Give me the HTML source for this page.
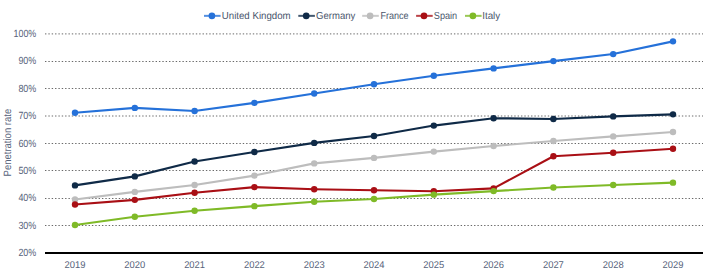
<!DOCTYPE html>
<html><head><meta charset="utf-8"><style>
html,body{margin:0;padding:0;background:#fff;width:720px;height:275px;overflow:hidden}
svg{display:block}
text{text-rendering:geometricPrecision;font-family:"Liberation Sans",sans-serif;fill:#56627a}
.ty{font-size:10.4px}
.tx{font-size:9.8px}
.tt{font-size:10.6px}
.tl{font-size:10.2px;fill:#4a566c}
</style></head><body>
<svg width="720" height="275" viewBox="0 0 720 275">
<line x1="45" x2="703" y1="33.90" y2="33.90" stroke="#6a6a6a" stroke-width="1" stroke-dasharray="1.4 1.952"/>
<line x1="45" x2="703" y1="61.50" y2="61.50" stroke="#6a6a6a" stroke-width="1" stroke-dasharray="1.4 1.952"/>
<line x1="45" x2="703" y1="88.50" y2="88.50" stroke="#6a6a6a" stroke-width="1" stroke-dasharray="1.4 1.952"/>
<line x1="45" x2="703" y1="116.00" y2="116.00" stroke="#6a6a6a" stroke-width="1" stroke-dasharray="1.4 1.952"/>
<line x1="45" x2="703" y1="143.50" y2="143.50" stroke="#6a6a6a" stroke-width="1" stroke-dasharray="1.4 1.952"/>
<line x1="45" x2="703" y1="170.50" y2="170.50" stroke="#6a6a6a" stroke-width="1" stroke-dasharray="1.4 1.952"/>
<line x1="45" x2="703" y1="198.50" y2="198.50" stroke="#6a6a6a" stroke-width="1" stroke-dasharray="1.4 1.952"/>
<line x1="45" x2="703" y1="225.50" y2="225.50" stroke="#6a6a6a" stroke-width="1" stroke-dasharray="1.4 1.952"/>
<text x="36.3" y="37.05" text-anchor="end" class="ty" textLength="22.8" lengthAdjust="spacingAndGlyphs">100%</text>
<text x="36.3" y="64.45" text-anchor="end" class="ty" textLength="17.9" lengthAdjust="spacingAndGlyphs">90%</text>
<text x="36.3" y="91.85" text-anchor="end" class="ty" textLength="17.9" lengthAdjust="spacingAndGlyphs">80%</text>
<text x="36.3" y="119.25" text-anchor="end" class="ty" textLength="17.9" lengthAdjust="spacingAndGlyphs">70%</text>
<text x="36.3" y="146.65" text-anchor="end" class="ty" textLength="17.9" lengthAdjust="spacingAndGlyphs">60%</text>
<text x="36.3" y="174.05" text-anchor="end" class="ty" textLength="17.9" lengthAdjust="spacingAndGlyphs">50%</text>
<text x="36.3" y="201.45" text-anchor="end" class="ty" textLength="17.9" lengthAdjust="spacingAndGlyphs">40%</text>
<text x="36.3" y="228.85" text-anchor="end" class="ty" textLength="17.9" lengthAdjust="spacingAndGlyphs">30%</text>
<text x="36.3" y="256.25" text-anchor="end" class="ty" textLength="17.9" lengthAdjust="spacingAndGlyphs">20%</text>
<polyline points="75.00,112.79 134.80,107.89 194.60,111.07 254.40,102.85 314.20,93.53 374.00,84.30 433.80,75.72 493.60,68.41 553.40,61.09 613.20,54.08 673.00,41.36" fill="none" stroke="#2571d9" stroke-width="2.1" stroke-linejoin="round"/>
<circle cx="75.00" cy="112.79" r="3.2" fill="#2571d9"/>
<circle cx="134.80" cy="107.89" r="3.2" fill="#2571d9"/>
<circle cx="194.60" cy="111.07" r="3.2" fill="#2571d9"/>
<circle cx="254.40" cy="102.85" r="3.2" fill="#2571d9"/>
<circle cx="314.20" cy="93.53" r="3.2" fill="#2571d9"/>
<circle cx="374.00" cy="84.30" r="3.2" fill="#2571d9"/>
<circle cx="433.80" cy="75.72" r="3.2" fill="#2571d9"/>
<circle cx="493.60" cy="68.41" r="3.2" fill="#2571d9"/>
<circle cx="553.40" cy="61.09" r="3.2" fill="#2571d9"/>
<circle cx="613.20" cy="54.08" r="3.2" fill="#2571d9"/>
<circle cx="673.00" cy="41.36" r="3.2" fill="#2571d9"/>
<polyline points="75.00,185.40 134.80,176.39 194.60,161.48 254.40,152.00 314.20,142.91 374.00,136.00 433.80,125.59 493.60,118.19 553.40,119.01 613.20,116.41 673.00,114.36" fill="none" stroke="#0f2a47" stroke-width="2.1" stroke-linejoin="round"/>
<circle cx="75.00" cy="185.40" r="3.2" fill="#0f2a47"/>
<circle cx="134.80" cy="176.39" r="3.2" fill="#0f2a47"/>
<circle cx="194.60" cy="161.48" r="3.2" fill="#0f2a47"/>
<circle cx="254.40" cy="152.00" r="3.2" fill="#0f2a47"/>
<circle cx="314.20" cy="142.91" r="3.2" fill="#0f2a47"/>
<circle cx="374.00" cy="136.00" r="3.2" fill="#0f2a47"/>
<circle cx="433.80" cy="125.59" r="3.2" fill="#0f2a47"/>
<circle cx="493.60" cy="118.19" r="3.2" fill="#0f2a47"/>
<circle cx="553.40" cy="119.01" r="3.2" fill="#0f2a47"/>
<circle cx="613.20" cy="116.41" r="3.2" fill="#0f2a47"/>
<circle cx="673.00" cy="114.36" r="3.2" fill="#0f2a47"/>
<polyline points="75.00,199.57 134.80,191.90 194.60,185.05 254.40,175.59 314.20,163.40 374.00,157.92 433.80,151.62 493.60,146.00 553.40,141.07 613.20,136.41 673.00,132.00" fill="none" stroke="#bdbdbd" stroke-width="2.1" stroke-linejoin="round"/>
<circle cx="75.00" cy="199.57" r="3.2" fill="#bdbdbd"/>
<circle cx="134.80" cy="191.90" r="3.2" fill="#bdbdbd"/>
<circle cx="194.60" cy="185.05" r="3.2" fill="#bdbdbd"/>
<circle cx="254.40" cy="175.59" r="3.2" fill="#bdbdbd"/>
<circle cx="314.20" cy="163.40" r="3.2" fill="#bdbdbd"/>
<circle cx="374.00" cy="157.92" r="3.2" fill="#bdbdbd"/>
<circle cx="433.80" cy="151.62" r="3.2" fill="#bdbdbd"/>
<circle cx="493.60" cy="146.00" r="3.2" fill="#bdbdbd"/>
<circle cx="553.40" cy="141.07" r="3.2" fill="#bdbdbd"/>
<circle cx="613.20" cy="136.41" r="3.2" fill="#bdbdbd"/>
<circle cx="673.00" cy="132.00" r="3.2" fill="#bdbdbd"/>
<polyline points="75.00,204.50 134.80,199.84 194.60,192.72 254.40,187.10 314.20,189.29 374.00,190.25 433.80,191.21 493.60,188.34 553.40,156.28 613.20,152.72 673.00,148.74" fill="none" stroke="#a90f15" stroke-width="2.1" stroke-linejoin="round"/>
<circle cx="75.00" cy="204.50" r="3.2" fill="#a90f15"/>
<circle cx="134.80" cy="199.84" r="3.2" fill="#a90f15"/>
<circle cx="194.60" cy="192.72" r="3.2" fill="#a90f15"/>
<circle cx="254.40" cy="187.10" r="3.2" fill="#a90f15"/>
<circle cx="314.20" cy="189.29" r="3.2" fill="#a90f15"/>
<circle cx="374.00" cy="190.25" r="3.2" fill="#a90f15"/>
<circle cx="433.80" cy="191.21" r="3.2" fill="#a90f15"/>
<circle cx="493.60" cy="188.34" r="3.2" fill="#a90f15"/>
<circle cx="553.40" cy="156.28" r="3.2" fill="#a90f15"/>
<circle cx="613.20" cy="152.72" r="3.2" fill="#a90f15"/>
<circle cx="673.00" cy="148.74" r="3.2" fill="#a90f15"/>
<polyline points="75.00,225.05 134.80,216.69 194.60,210.80 254.40,206.15 314.20,201.76 374.00,199.02 433.80,194.64 493.60,191.08 553.40,187.51 613.20,185.05 673.00,182.66" fill="none" stroke="#7fba27" stroke-width="2.1" stroke-linejoin="round"/>
<circle cx="75.00" cy="225.05" r="3.2" fill="#7fba27"/>
<circle cx="134.80" cy="216.69" r="3.2" fill="#7fba27"/>
<circle cx="194.60" cy="210.80" r="3.2" fill="#7fba27"/>
<circle cx="254.40" cy="206.15" r="3.2" fill="#7fba27"/>
<circle cx="314.20" cy="201.76" r="3.2" fill="#7fba27"/>
<circle cx="374.00" cy="199.02" r="3.2" fill="#7fba27"/>
<circle cx="433.80" cy="194.64" r="3.2" fill="#7fba27"/>
<circle cx="493.60" cy="191.08" r="3.2" fill="#7fba27"/>
<circle cx="553.40" cy="187.51" r="3.2" fill="#7fba27"/>
<circle cx="613.20" cy="185.05" r="3.2" fill="#7fba27"/>
<circle cx="673.00" cy="182.66" r="3.2" fill="#7fba27"/>
<line x1="45" x2="703" y1="253" y2="253" stroke="#000" stroke-width="2"/>
<text x="75.00" y="268" text-anchor="middle" class="tx" textLength="20.9" lengthAdjust="spacingAndGlyphs">2019</text>
<text x="134.80" y="268" text-anchor="middle" class="tx" textLength="20.9" lengthAdjust="spacingAndGlyphs">2020</text>
<text x="194.60" y="268" text-anchor="middle" class="tx" textLength="20.9" lengthAdjust="spacingAndGlyphs">2021</text>
<text x="254.40" y="268" text-anchor="middle" class="tx" textLength="20.9" lengthAdjust="spacingAndGlyphs">2022</text>
<text x="314.20" y="268" text-anchor="middle" class="tx" textLength="20.9" lengthAdjust="spacingAndGlyphs">2023</text>
<text x="374.00" y="268" text-anchor="middle" class="tx" textLength="20.9" lengthAdjust="spacingAndGlyphs">2024</text>
<text x="433.80" y="268" text-anchor="middle" class="tx" textLength="20.9" lengthAdjust="spacingAndGlyphs">2025</text>
<text x="493.60" y="268" text-anchor="middle" class="tx" textLength="20.9" lengthAdjust="spacingAndGlyphs">2026</text>
<text x="553.40" y="268" text-anchor="middle" class="tx" textLength="20.9" lengthAdjust="spacingAndGlyphs">2027</text>
<text x="613.20" y="268" text-anchor="middle" class="tx" textLength="20.9" lengthAdjust="spacingAndGlyphs">2028</text>
<text x="673.00" y="268" text-anchor="middle" class="tx" textLength="20.9" lengthAdjust="spacingAndGlyphs">2029</text>
<text transform="translate(10.7,142.6) rotate(-90)" text-anchor="middle" class="tt" textLength="67.6" lengthAdjust="spacingAndGlyphs">Penetration rate</text>
<line x1="204.0" x2="220.6" y1="15.85" y2="15.85" stroke="#2571d9" stroke-width="2" opacity="0.78"/>
<circle cx="211.9" cy="15.9" r="3.3" fill="#2571d9"/>
<text x="221.8" y="19.0" class="tl" textLength="68.8" lengthAdjust="spacingAndGlyphs">United Kingdom</text>
<line x1="298.3" x2="314.90000000000003" y1="15.85" y2="15.85" stroke="#0f2a47" stroke-width="2" opacity="0.78"/>
<circle cx="306.2" cy="15.9" r="3.3" fill="#0f2a47"/>
<text x="316.09999999999997" y="19.0" class="tl" textLength="39.2" lengthAdjust="spacingAndGlyphs">Germany</text>
<line x1="362.2" x2="378.8" y1="15.85" y2="15.85" stroke="#bdbdbd" stroke-width="2" opacity="0.78"/>
<circle cx="370.09999999999997" cy="15.9" r="3.3" fill="#bdbdbd"/>
<text x="380.5" y="19.0" class="tl" textLength="28.1" lengthAdjust="spacingAndGlyphs">France</text>
<line x1="416.1" x2="432.70000000000005" y1="15.85" y2="15.85" stroke="#a90f15" stroke-width="2" opacity="0.78"/>
<circle cx="424.0" cy="15.9" r="3.3" fill="#a90f15"/>
<text x="433.79999999999995" y="19.0" class="tl" textLength="23.4" lengthAdjust="spacingAndGlyphs">Spain</text>
<line x1="465.0" x2="481.6" y1="15.85" y2="15.85" stroke="#7fba27" stroke-width="2" opacity="0.78"/>
<circle cx="472.9" cy="15.9" r="3.3" fill="#7fba27"/>
<text x="482.2" y="19.0" class="tl" textLength="18.0" lengthAdjust="spacingAndGlyphs">Italy</text>
</svg></body></html>
